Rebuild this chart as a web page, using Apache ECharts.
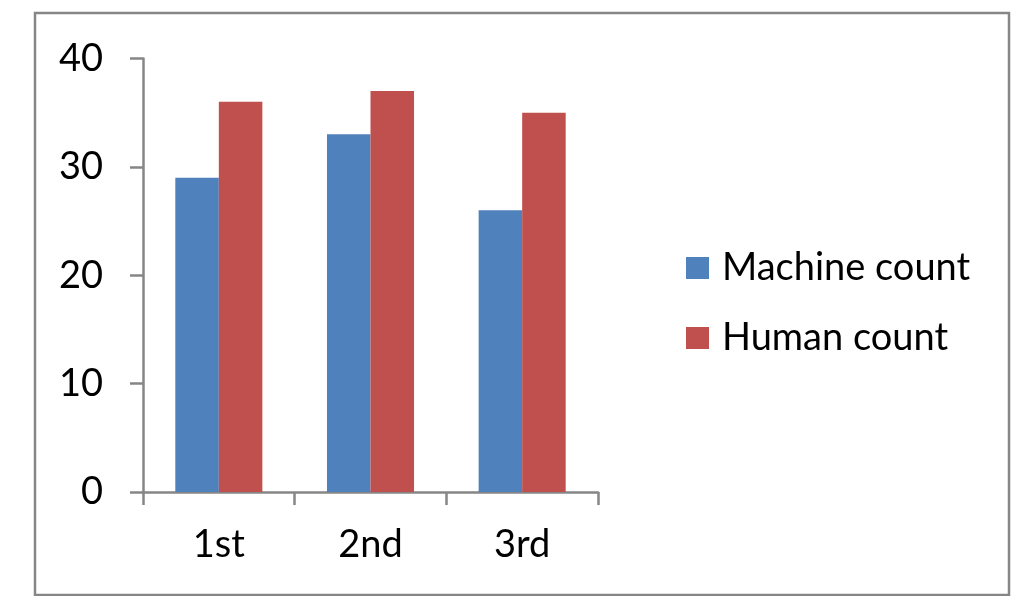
<!DOCTYPE html>
<html>
<head>
<meta charset="utf-8">
<script src="https://cdn.jsdelivr.net/npm/echarts@6/dist/echarts.min.js"></script>
<style>
    html, body { margin: 0; padding: 0; background: #fff; }
    #chart { width: 1021px; height: 596px; }
</style>
</head>
<body>
<div id="chart"></div>
<script>
    // categories and values
    var categories = ['1st', '2nd', '3rd'];
    var machineCount = [29, 33, 26];
    var humanCount = [36, 37, 35];
    var yTicks = [0, 10, 20, 30, 40];

    var axisGray = '#868686';
    var font = 'Lato';

    var myChart = echarts.init(document.getElementById('chart'));
    var option = {
        animation: false,
        color: ['#4F81BD', '#C0504D'],
        // outer frame of the chart area
        graphic: [
            {
                type: 'rect',
                shape: { x: 35, y: 13, width: 974, height: 582 },
                style: { fill: 'none', stroke: axisGray, lineWidth: 2.5 },
                silent: true
            }
        ],
        legend: {
            orient: 'vertical',
            left: 681,
            top: 244,
            itemWidth: 23,
            itemHeight: 22,
            itemGap: 32,
            icon: 'rect',
            textStyle: {
                fontFamily: font, fontSize: 38, lineHeight: 38, color: '#000',
                padding: [0, 0, 0, 8]
            },
            data: ['Machine count', 'Human count']
        },
        grid: {
            left: 143,
            right: 423,
            top: 58.5,
            bottom: 104,
            containLabel: false
        },
        xAxis: {
            type: 'category',
            data: categories,
            axisLine: { lineStyle: { color: axisGray, width: 2.5 } },
            axisTick: { show: true, length: 13, lineStyle: { color: axisGray, width: 2.5 } },
            axisLabel: { margin: 34, fontFamily: font, fontSize: 38, color: '#000' },
            splitLine: { show: false }
        },
        yAxis: {
            type: 'value',
            min: yTicks[0],
            max: yTicks[yTicks.length - 1],
            interval: 10,
            axisLine: { show: true, lineStyle: { color: axisGray, width: 2.5 } },
            axisTick: { show: true, length: 13, lineStyle: { color: axisGray, width: 2.5 } },
            axisLabel: { margin: 40, fontFamily: font, fontSize: 38, color: '#000' },
            splitLine: { show: false }
        },
        series: [
            {
                name: 'Machine count',
                type: 'bar',
                barWidth: '28.7%',
                barGap: '0%',
                data: machineCount
            },
            {
                name: 'Human count',
                type: 'bar',
                barWidth: '28.7%',
                barGap: '0%',
                data: humanCount
            }
        ]
    };
    myChart.setOption(option);
</script>
</body>
</html>
